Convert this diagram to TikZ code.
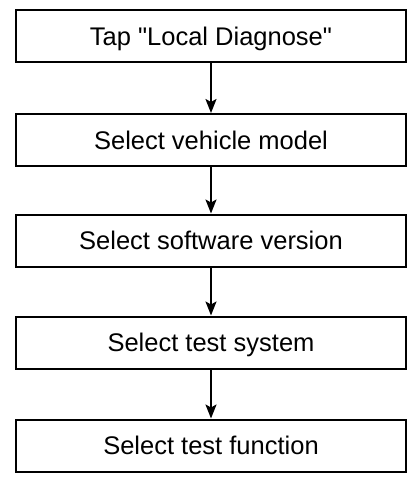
\documentclass[tikz,border=0pt]{standalone}
\usepackage{fontspec}
\newfontfamily\etiqueta{Liberation Sans}
\usetikzlibrary{arrows.meta, positioning}
\tikzset{
	every node/.style={
		font=\etiqueta\fontsize{25.5}{30}\selectfont
	},
	accion/.style={
		shape=rectangle,
		draw,
		line width=2pt,
		minimum width=390pt,
		minimum height=52pt,
		text height=18.3pt,
		text depth=0pt,
		text centered,
		inner sep=0pt
	},
	flecha/.style={
		-{Stealth[length=14pt,width=11pt,inset=3pt]},
		line width=2pt
	}
}

\begin{document}
\begin{tikzpicture}[x=1pt,y=-1pt]
	
	\useasboundingbox (0,0) rectangle (419,488);
	
	\node[accion] (tap) at (211,36) {Tap "Local Diagnose"};
	\node[accion] (modelo) at (211,140) {Select vehicle model};
	\node[accion] (version) at (211,240.5) {Select software version};
	\node[accion] (sistema) at (211,342.5) {Select test system};
	\node[accion] (funcion) at (211,445.5) {Select test function};
	
	\draw[flecha] (tap) -- (modelo);
	\draw[flecha] (modelo) -- (version);
	\draw[flecha] (version) -- (sistema);
	\draw[flecha] (sistema) -- (funcion);
	
\end{tikzpicture}
\end{document}
